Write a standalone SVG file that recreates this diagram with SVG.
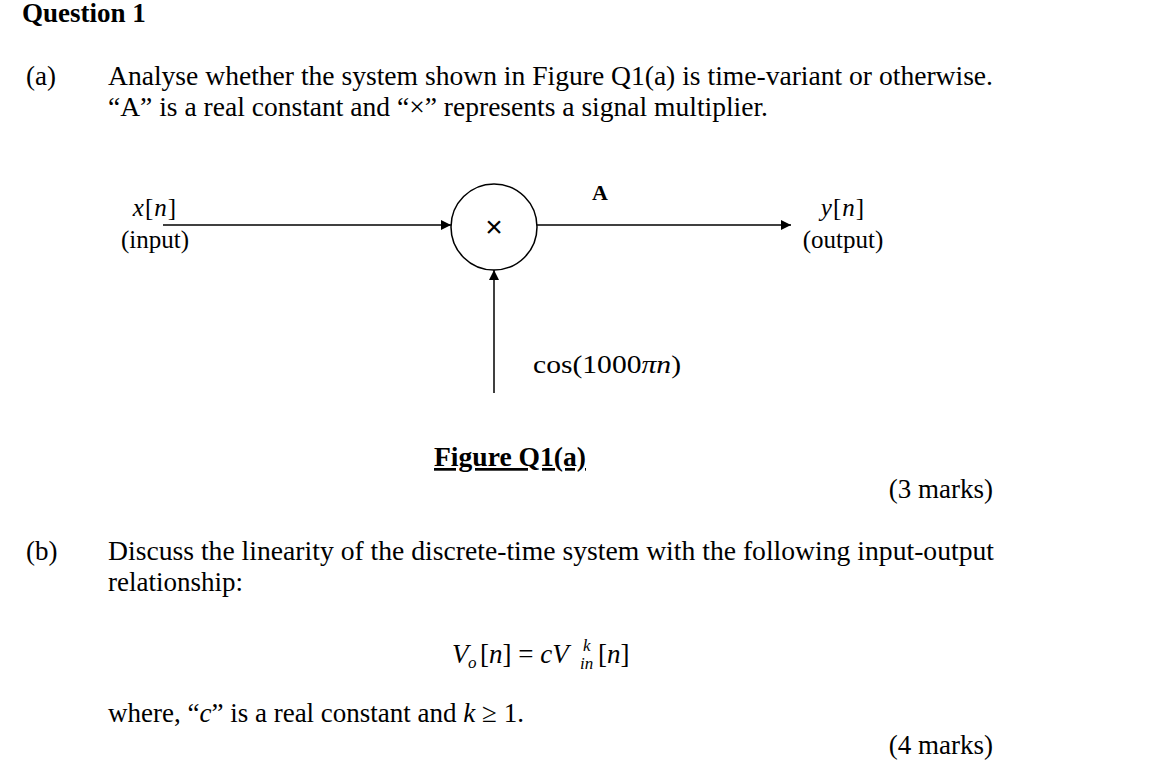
<svg xmlns="http://www.w3.org/2000/svg" width="1152" height="772" viewBox="0 0 1152 772">
<defs>
<style>
text{font-family:"Liberation Serif","Times New Roman",serif;fill:#000}
.t{font-size:27px}
.m{font-style:italic}
.ln{stroke:#000;stroke-width:1.5;fill:none}
</style>
<marker id="ar" viewBox="0 0 10 10" refX="10" refY="5" markerWidth="10" markerHeight="10" markerUnits="userSpaceOnUse" orient="auto"><path d="M0,0L10,5L0,10z" fill="#000"/></marker>
</defs>
<rect width="1152" height="772" fill="#fff"/>
<text x="22" y="22" class="t" font-weight="bold">Question 1</text>
<text x="26" y="85" class="t">(a)</text>
<text x="108" y="85" class="t" textLength="885" lengthAdjust="spacingAndGlyphs">Analyse whether the system shown in Figure Q1(a) is time-variant or otherwise.</text>
<text x="108" y="116" class="t" textLength="660" lengthAdjust="spacingAndGlyphs">“A” is a real constant and “×” represents a signal multiplier.</text>
<g id="mult"><ellipse cx="494" cy="227" rx="43" ry="43" class="ln"/><text x="494" y="237" font-size="30" text-anchor="middle" style="font-family:'Liberation Sans',sans-serif">×</text></g>
<g id="labels">
<text x="155" y="216" font-size="25" text-anchor="middle" letter-spacing="1"><tspan class="m">x</tspan>[<tspan class="m">n</tspan>]</text>
<text x="155" y="248" font-size="25" text-anchor="middle">(input)</text>
<text x="600" y="200" font-size="22" font-weight="bold" text-anchor="middle">A</text>
<text x="843" y="216" font-size="25" text-anchor="middle" letter-spacing="1"><tspan class="m">y</tspan>[<tspan class="m">n</tspan>]</text>
<text x="843" y="248" font-size="25" text-anchor="middle">(output)</text>
<text x="533" y="373" font-size="25" textLength="148" lengthAdjust="spacingAndGlyphs">cos(1000<tspan class="m">πn</tspan>)</text>
</g>
<g id="connectors">
<line x1="163" y1="225" x2="451" y2="225" class="ln" marker-end="url(#ar)"/>
<line x1="537" y1="225" x2="791" y2="225" class="ln" marker-end="url(#ar)"/>
<line x1="494" y1="393" x2="494" y2="270" class="ln" marker-end="url(#ar)"/>
</g>
<text x="434" y="466" class="t" font-weight="bold" text-decoration="underline" textLength="152" lengthAdjust="spacingAndGlyphs">Figure Q1(a)</text>
<text x="993" y="498" class="t" text-anchor="end">(3 marks)</text>
<text x="26" y="560" class="t">(b)</text>
<text x="108" y="560" class="t" textLength="886" lengthAdjust="spacingAndGlyphs">Discuss the linearity of the discrete-time system with the following input-output</text>
<text x="108" y="591" class="t">relationship:</text>
<g id="eq" font-size="27">
<text x="452" y="663"><tspan class="m">V</tspan></text>
<text x="468" y="668" font-size="17" class="m">o</text>
<text x="480" y="663"><tspan>[</tspan><tspan class="m">n</tspan>] = <tspan class="m">cV</tspan></text>
<text x="583" y="651" font-size="17" class="m">k</text>
<text x="580" y="669" font-size="17" class="m">in</text>
<text x="598" y="663">[<tspan class="m">n</tspan>]</text>
</g>
<text x="108" y="722" class="t">where, “<tspan class="m">c</tspan>” is a real constant and <tspan class="m">k</tspan> ≥ 1.</text>
<text x="993" y="754" class="t" text-anchor="end">(4 marks)</text>
</svg>
